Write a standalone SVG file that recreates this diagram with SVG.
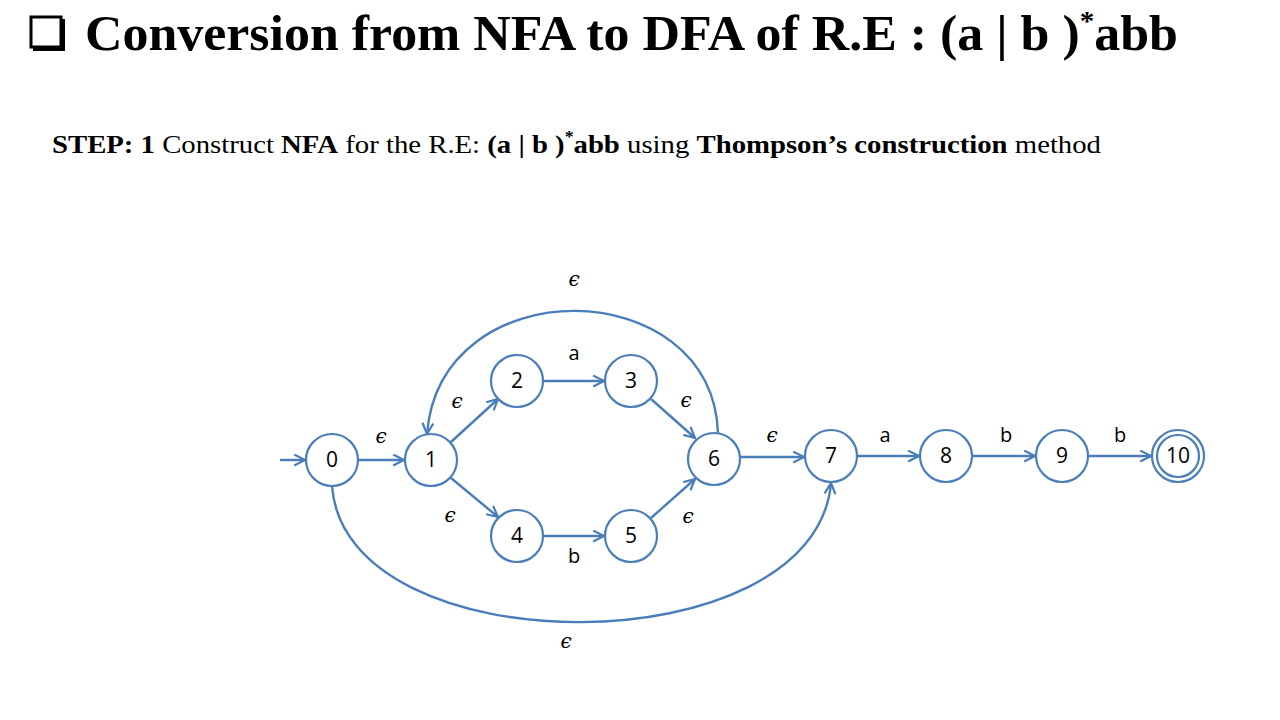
<svg xmlns="http://www.w3.org/2000/svg" width="1280" height="720" viewBox="0 0 1280 720">
<defs>
<marker id="ar" viewBox="0 0 12 12" refX="11" refY="6" markerWidth="13" markerHeight="13" markerUnits="userSpaceOnUse" orient="auto"><path d="M1,1 L11,6 L1,11" fill="none" stroke="#4a7ebb" stroke-width="2"/></marker>
<style>
.n circle{fill:#fff;stroke:#4a7ebb;stroke-width:2.2}
.n text{font-family:"Open Sans","Liberation Sans",sans-serif;font-size:21px;text-anchor:middle;fill:#000}
#edges path,#edges line{fill:none;stroke:#4a7ebb;stroke-width:2.4;marker-end:url(#ar)}
.l{font-family:"DejaVu Serif","Liberation Serif",serif;font-size:20px;font-style:italic;text-anchor:middle}
.c{font-family:"Open Sans","Liberation Sans",sans-serif;font-size:20px;text-anchor:middle}
</style>
</defs>
<rect width="1280" height="720" fill="#fff"/>
<rect x="31" y="17" width="30" height="30" fill="#fff" stroke="#000" stroke-width="3"/>
<path d="M33,49 L63,49 L63,19" fill="none" stroke="#000" stroke-width="4"/>
<text x="85" y="50" font-family="Liberation Serif,serif" font-weight="bold" font-size="50" textLength="1093" lengthAdjust="spacingAndGlyphs">Conversion from NFA to DFA of R.E : (a | b )<tspan font-size="28" dy="-20">*</tspan><tspan dy="20">abb</tspan></text>
<text x="52" y="153" font-family="Liberation Serif,serif" font-size="26" textLength="1049" lengthAdjust="spacingAndGlyphs"><tspan font-weight="bold">STEP: 1</tspan> Construct <tspan font-weight="bold">NFA</tspan> for the R.E: <tspan font-weight="bold">(a | b )<tspan font-size="16" dy="-11">*</tspan><tspan dy="11">abb</tspan></tspan> using <tspan font-weight="bold">Thompson’s construction</tspan> method</text>
<g id="edges">
<line x1="280" y1="460" x2="305" y2="460"/>
<line x1="358" y1="460" x2="404" y2="460"/>
<line x1="451" y1="442" x2="498" y2="399"/>
<line x1="451" y1="478" x2="498" y2="517"/>
<line x1="543" y1="381" x2="604" y2="381"/>
<line x1="543" y1="536" x2="604" y2="536"/>
<line x1="651" y1="399" x2="695" y2="438"/>
<line x1="651" y1="518" x2="695" y2="479"/>
<line x1="740" y1="457" x2="804" y2="457"/>
<line x1="857" y1="456" x2="919" y2="456"/>
<line x1="972" y1="456" x2="1035" y2="456"/>
<line x1="1088" y1="456" x2="1151" y2="456"/>
<path d="M718,433 C712,272 440,268 427,434"/>
<path d="M332,486 C345,668 815,668 831,483"/>
</g>
<g class="l">
<text x="381" y="443">ϵ</text><text x="457" y="408">ϵ</text><text x="450" y="522">ϵ</text>
<text x="686" y="407">ϵ</text><text x="688" y="523">ϵ</text><text x="772" y="442">ϵ</text>
<text x="574" y="286">ϵ</text><text x="566" y="648">ϵ</text>
</g>
<g class="c">
<text x="574" y="360">a</text><text x="574" y="563">b</text><text x="885" y="442">a</text><text x="1006" y="442">b</text><text x="1120" y="442">b</text>
</g>
<g id="n0" class="n"><circle cx="332" cy="460" r="26"/><text x="332" y="467">0</text></g>
<g id="n1" class="n"><circle cx="431" cy="460" r="26"/><text x="431" y="467">1</text></g>
<g id="n2" class="n"><circle cx="517" cy="381" r="26"/><text x="517" y="388">2</text></g>
<g id="n3" class="n"><circle cx="631" cy="381" r="26"/><text x="631" y="388">3</text></g>
<g id="n4" class="n"><circle cx="517" cy="536" r="26"/><text x="517" y="543">4</text></g>
<g id="n5" class="n"><circle cx="631" cy="536" r="26"/><text x="631" y="543">5</text></g>
<g id="n6" class="n"><circle cx="714" cy="459" r="26"/><text x="714" y="466">6</text></g>
<g id="n7" class="n"><circle cx="831" cy="456" r="26"/><text x="831" y="463">7</text></g>
<g id="n8" class="n"><circle cx="946" cy="456" r="26"/><text x="946" y="463">8</text></g>
<g id="n9" class="n"><circle cx="1062" cy="456" r="26"/><text x="1062" y="463">9</text></g>
<g id="n10" class="n"><circle cx="1178" cy="456" r="26"/><circle cx="1178" cy="456" r="21"/><text x="1178" y="463">10</text></g>
</svg>
